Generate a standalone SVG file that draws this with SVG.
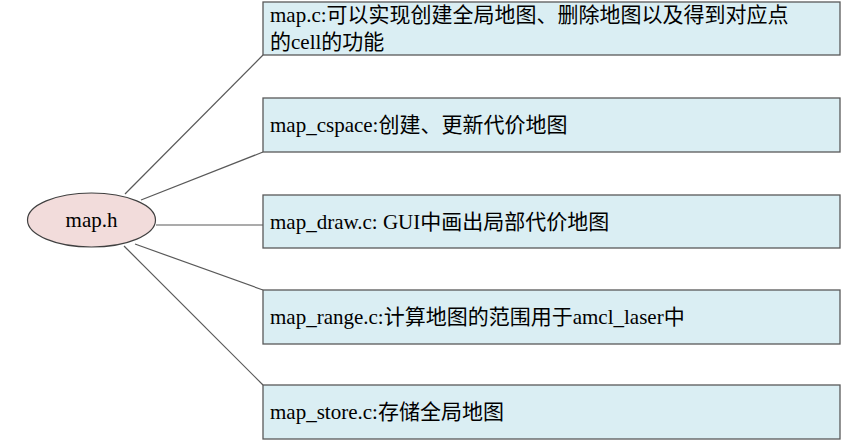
<svg xmlns="http://www.w3.org/2000/svg" width="846" height="443" viewBox="0 0 846 443">
<style>
.box{fill:#DAEEF3;stroke:#595959;stroke-width:1.3}
.t{font-family:'Liberation Serif','Times New Roman','DejaVu Serif','Noto Sans CJK SC',serif;font-size:21px;fill:#000}
.c{stroke:#595959;stroke-width:1.2;fill:none}
</style>
<rect width="846" height="443" fill="#fff"/>
<g id="connectors">
<line class="c" x1="125" y1="194" x2="263" y2="55"/>
<line class="c" x1="141" y1="200" x2="263" y2="152"/>
<line class="c" x1="156" y1="225" x2="263" y2="225"/>
<line class="c" x1="135" y1="244" x2="263" y2="290"/>
<line class="c" x1="124" y1="246" x2="263" y2="385"/>
</g>
<g id="root"><ellipse cx="91.5" cy="220" rx="64" ry="27" fill="#F2DCDB" stroke="#404040" stroke-width="1.2"/><text class="t" x="91.5" y="227" text-anchor="middle">map.h</text></g>
<g id="n1"><rect class="box" x="263" y="2" width="577" height="53"/><text class="t" x="270" y="22">map.c:可以实现创建全局地图、删除地图以及得到对应点</text><text class="t" x="270" y="49">的cell的功能</text></g>
<g id="n2"><rect class="box" x="263" y="98" width="577" height="54"/><text class="t" x="270" y="132">map_cspace:创建、更新代价地图</text></g>
<g id="n3"><rect class="box" x="263" y="195" width="577" height="53"/><text class="t" x="270" y="229">map_draw.c: GUI中画出局部代价地图</text></g>
<g id="n4"><rect class="box" x="263" y="290" width="577" height="54"/><text class="t" x="270" y="324">map_range.c:计算地图的范围用于amcl_laser中</text></g>
<g id="n5"><rect class="box" x="263" y="385" width="577" height="54"/><text class="t" x="270" y="419">map_store.c:存储全局地图</text></g>
</svg>
